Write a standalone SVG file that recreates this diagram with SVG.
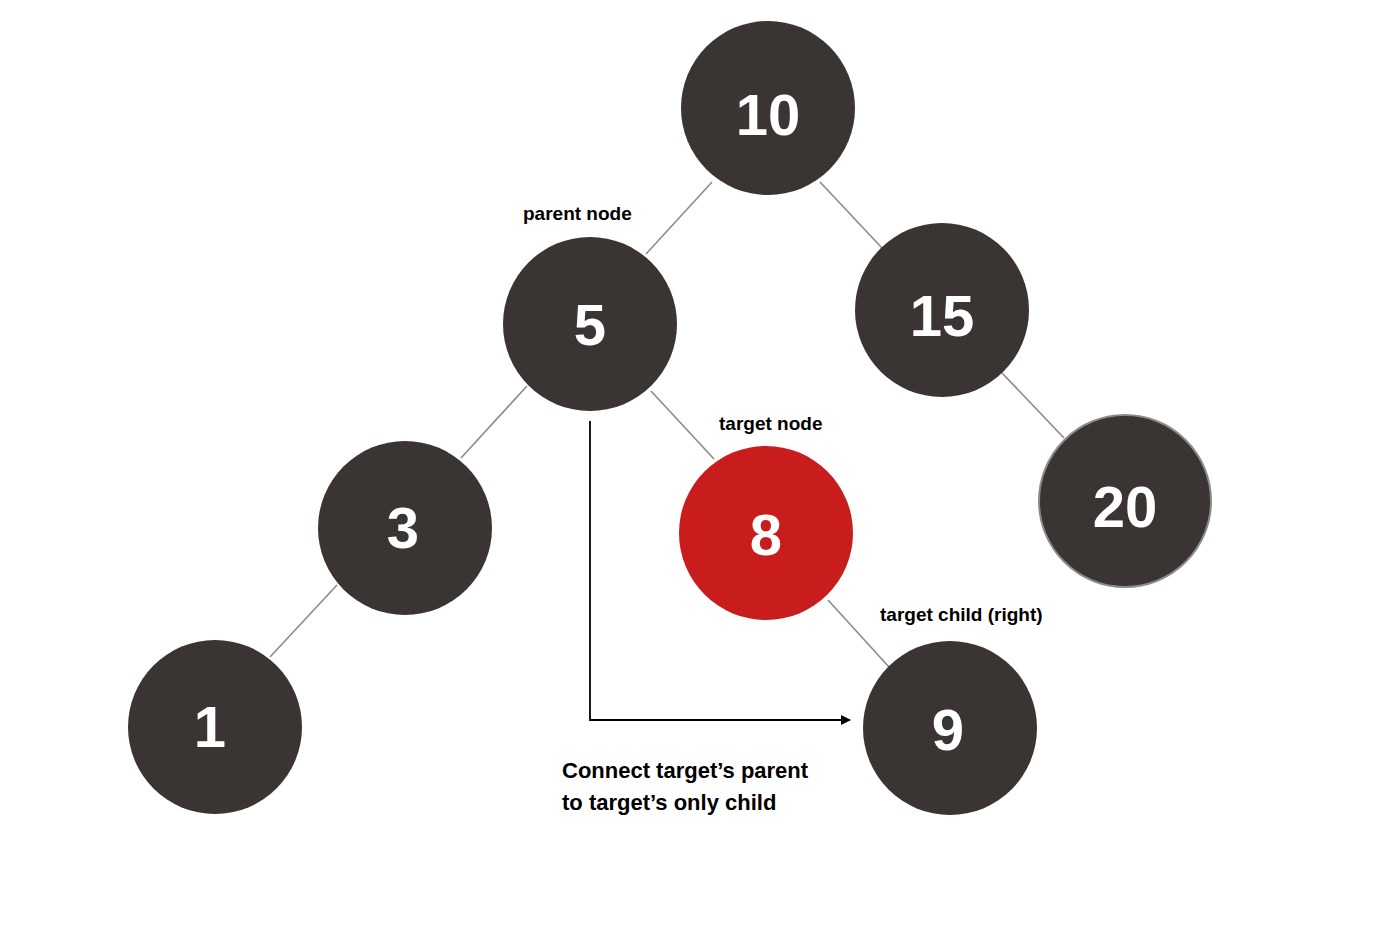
<svg xmlns="http://www.w3.org/2000/svg" width="1400" height="942" viewBox="0 0 1400 942">
<style>
.n{fill:#3a3433}
.t{fill:#fff;font-family:"Liberation Sans",Arial,sans-serif;font-weight:bold;font-size:58px;text-anchor:middle}
.l{fill:#000;font-family:"Liberation Sans",Arial,sans-serif;font-weight:bold;font-size:19px}
.e{stroke:#8a8a8a;stroke-width:1.6;fill:none}
</style>
<defs><marker id="a" markerWidth="10" markerHeight="10" refX="9" refY="5" orient="auto" markerUnits="userSpaceOnUse"><path d="M0,0 L10,5 L0,10z" fill="#000"/></marker></defs>
<rect width="1400" height="942" fill="#fff"/>
<g id="connectors">
<line class="e" x1="712" y1="182" x2="646" y2="254"/>
<line class="e" x1="820" y1="182" x2="882" y2="248"/>
<line class="e" x1="1002" y1="373" x2="1064" y2="438"/>
<line class="e" x1="527" y1="386" x2="461" y2="458"/>
<line class="e" x1="651" y1="391" x2="714" y2="459"/>
<line class="e" x1="337" y1="585" x2="270" y2="657"/>
<line class="e" x1="828" y1="600" x2="889" y2="667"/>
<path d="M590,421 V720 H850" stroke="#000" stroke-width="1.8" fill="none" marker-end="url(#a)"/>
</g>
<g id="n10"><circle class="n" cx="768" cy="108" r="87"/><text class="t" x="768" y="135">10</text></g>
<g id="n5"><circle class="n" cx="590" cy="324" r="87"/><text class="t" x="590" y="345">5</text></g>
<g id="n15"><circle class="n" cx="942" cy="310" r="87"/><text class="t" x="942" y="336">15</text></g>
<g id="n3"><circle class="n" cx="405" cy="528" r="87"/><text class="t" x="403" y="548">3</text></g>
<g id="n8"><circle cx="766" cy="533" r="87" fill="#c91c1c"/><text class="t" x="766" y="555">8</text></g>
<g id="n20"><circle class="n" cx="1125" cy="501" r="86" stroke="#8a8a8a" stroke-width="2"/><text class="t" x="1125" y="527">20</text></g>
<g id="n1"><circle class="n" cx="215" cy="727" r="87"/><text class="t" x="210" y="747">1</text></g>
<g id="n9"><circle class="n" cx="950" cy="728" r="87"/><text class="t" x="948" y="750">9</text></g>
<text class="l" x="523" y="220">parent node</text>
<text class="l" x="719" y="430">target node</text>
<text class="l" x="880" y="621">target child (right)</text>
<text class="l" x="562" y="778" style="font-size:22px">Connect target’s parent</text>
<text class="l" x="562" y="810" style="font-size:22px">to target’s only child</text>
</svg>
